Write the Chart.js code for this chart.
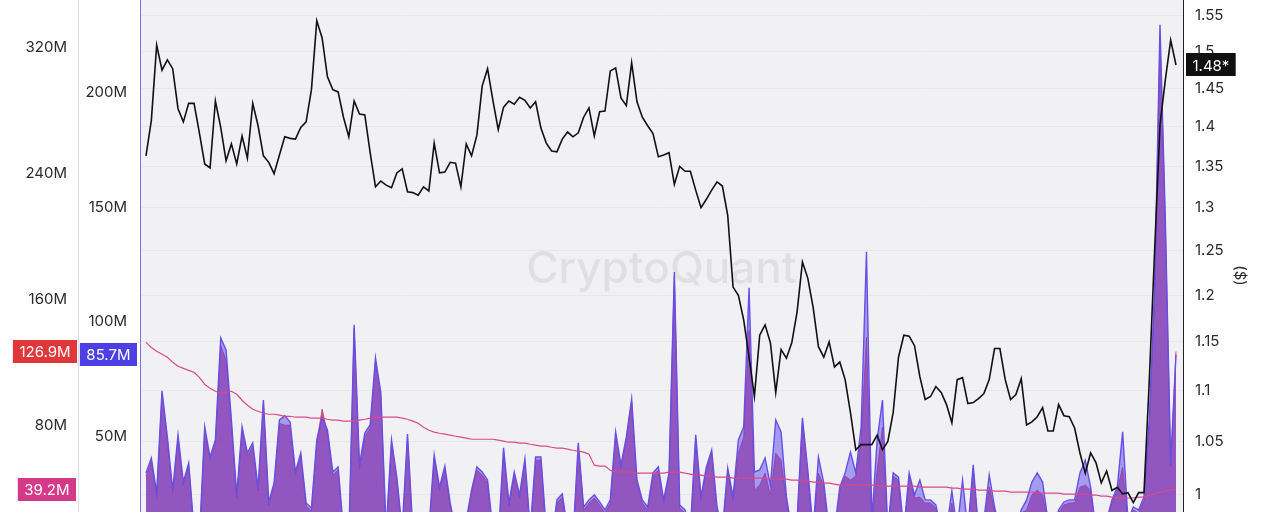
<!DOCTYPE html>
<html>
<head>
<meta charset="utf-8">
<script src="https://cdn.jsdelivr.net/npm/chart.js@4.4.0/dist/chart.umd.min.js"></script>
<style>
  html, body { margin: 0; padding: 0; background: #fff; overflow: hidden; }
  .wrap { position: relative; width: 1280px; height: 551px; }
</style>
</head>
<body>
<div class="wrap"><canvas id="chart"></canvas></div>
<script>
// price ($), right log axis
const price = [
  1.363,1.408,1.508,1.474,1.488,1.476,1.423,1.406,1.430,1.430,
  1.392,1.353,1.348,1.433,1.399,1.357,1.378,1.353,1.388,1.360,
  1.430,1.401,1.363,1.355,1.341,1.364,1.387,1.385,1.384,1.399,
  1.406,1.448,1.542,1.518,1.465,1.448,1.445,1.412,1.387,1.433,
  1.416,1.415,1.367,1.325,1.332,1.327,1.324,1.342,1.347,1.319,
  1.318,1.315,1.325,1.320,1.379,1.342,1.343,1.355,1.354,1.325,
  1.378,1.363,1.389,1.453,1.476,1.434,1.396,1.425,1.433,1.429,
  1.438,1.434,1.424,1.432,1.398,1.379,1.369,1.368,1.384,1.393,
  1.387,1.392,1.412,1.424,1.388,1.419,1.420,1.473,1.477,1.437,
  1.427,1.484,1.432,1.412,1.401,1.391,1.362,1.364,1.367,1.328,
  1.350,1.344,1.344,1.321,1.300,1.310,1.321,1.331,1.326,1.291,
  1.209,1.200,1.173,1.134,1.094,1.157,1.168,1.149,1.098,1.142,
  1.133,1.149,1.182,1.237,1.219,1.187,1.145,1.134,1.150,1.124,
  1.129,1.111,1.078,1.042,1.047,1.047,1.047,1.056,1.042,1.050,
  1.078,1.134,1.157,1.156,1.146,1.114,1.091,1.094,1.104,1.098,
  1.086,1.068,1.111,1.113,1.087,1.088,1.092,1.097,1.111,1.143,
  1.143,1.111,1.091,1.096,1.112,1.066,1.069,1.074,1.083,1.060,
  1.060,1.086,1.075,1.074,1.063,1.039,1.020,1.039,1.030,1.011,
  1.022,1.004,1.007,1.001,1.002,0.993,1.002,1.002,1.111,1.251,
  1.402,1.461,1.515,1.481
];

// red series (M), outer left axis
const volRed = [
  47.6,57.2,34.9,99.7,70.5,36.8,71.8,41.9,54.0,11.4,
  5.1,76.8,57.8,68.6,130.8,121.3,81.3,33.7,76.8,60.3,
  66.7,38.1,94.0,29.2,41.3,81.3,80.0,80.0,48.3,60.3,
  28.6,25.4,68.6,90.2,74.9,48.3,51.4,11.4,5.1,141.6,
  52.7,73.0,78.1,120.7,98.4,11.4,68.6,45.1,11.4,72.4,
  11.4,1.9,5.1,11.4,59.1,38.7,52.1,28.6,11.4,5.1,
  17.8,36.8,51.4,48.3,43.2,11.4,5.1,63.5,28.6,48.3,
  33.7,56.5,11.4,57.8,57.8,11.4,5.1,30.5,34.3,11.4,
  5.1,66.7,26.0,30.5,33.7,29.2,24.1,30.5,73.7,52.7,
  70.5,94.6,43.2,30.5,26.0,47.6,51.4,30.5,47.6,175.3,
  27.3,24.1,11.4,71.8,32.4,51.4,62.2,26.0,11.4,50.8,
  32.4,62.2,72.4,140.3,38.7,41.9,49.5,35.6,62.2,57.8,
  32.4,11.4,17.8,82.6,49.5,11.4,49.5,41.3,11.4,11.4,
  38.7,47.6,45.1,47.6,70.5,135.9,17.8,51.4,78.7,11.4,
  47.6,45.1,11.4,47.6,33.7,34.3,30.5,30.5,27.3,11.4,
  11.4,30.5,11.4,22.9,11.4,52.7,11.4,17.8,40.6,26.0,
  11.4,11.4,11.4,14.6,24.1,26.0,35.6,38.7,35.6,17.8,
  11.4,24.1,29.2,30.5,30.5,40.6,41.9,38.7,11.4,11.4,
  17.8,30.5,38.7,53.3,17.8,26.0,24.1,32.4,81.3,163.8,
  327.7,208.3,54.0,126.9
];

// blue series (M), inner left axis
const volBlue = [
  34.1,40.6,25.3,69.9,49.8,26.6,50.7,30.1,38.4,9.2,
  4.8,54.2,41.0,48.5,93.0,87.8,57.2,24.5,54.2,42.8,
  47.2,27.5,65.9,21.4,29.7,57.2,59.0,56.3,34.5,42.8,
  21.0,18.8,48.5,58.5,52.8,34.5,36.7,9.2,4.8,98.7,
  37.6,51.5,55.0,84.3,69.0,9.2,48.5,32.3,9.2,51.1,
  9.2,2.6,4.8,9.2,41.9,27.9,37.1,21.0,9.2,4.8,
  13.5,26.6,36.7,34.5,31.0,9.2,4.8,45.0,21.0,34.5,
  24.5,40.2,9.2,41.0,41.0,9.2,4.8,22.3,24.9,9.2,
  4.8,47.2,19.2,22.3,24.5,21.4,17.9,22.3,52.0,37.6,
  49.8,66.4,31.0,22.3,19.2,34.1,36.7,22.3,34.1,121.8,
  20.1,17.9,9.2,50.7,23.6,36.7,44.1,19.2,9.2,36.2,
  23.6,48.5,54.2,114.9,34.5,35.4,40.6,28.8,57.2,52.0,
  23.6,9.2,13.5,58.1,35.4,9.2,41.0,29.7,9.2,9.2,
  27.9,34.1,43.2,34.1,54.2,130.6,13.5,48.5,65.9,9.2,
  34.1,32.3,9.2,34.1,24.5,31.0,22.3,22.3,20.1,9.2,
  9.2,26.2,9.2,31.0,9.2,37.6,9.2,13.5,33.2,19.2,
  9.2,9.2,9.2,11.4,17.9,22.3,30.1,34.1,30.1,13.5,
  9.2,17.9,21.4,22.3,22.3,34.1,39.7,27.9,9.2,9.2,
  13.5,22.3,27.9,52.0,13.5,19.2,17.9,23.6,57.2,114.0,
  229.7,144.5,38.4,85.7
];

// moving average (M), outer left axis
const volAvg = [
  132.7,129.5,127.0,125.1,123.2,120.0,117.5,116.2,114.9,113.7,
  110.5,106.0,103.5,101.6,100.3,101.0,101.6,99.7,95.9,92.7,
  90.2,88.9,87.6,87.0,87.0,86.4,85.7,85.7,85.1,85.1,
  85.1,84.5,84.5,84.5,83.8,83.2,83.2,82.6,82.6,82.6,
  83.2,83.8,84.5,85.1,85.1,85.1,85.1,85.1,84.5,83.8,
  82.6,81.3,78.7,76.8,75.6,74.9,74.3,73.7,73.0,72.4,
  71.8,71.1,71.1,71.1,71.1,71.1,70.5,69.9,69.2,69.2,
  68.6,68.6,67.9,67.3,66.7,66.7,66.0,65.4,65.4,64.8,
  64.1,63.5,62.9,61.6,54.6,54.0,54.0,51.4,50.2,50.2,
  50.2,50.2,49.5,49.5,49.5,49.5,49.5,49.5,50.2,50.2,
  50.2,49.5,48.9,48.3,48.3,47.6,47.6,47.0,47.0,47.0,
  46.4,46.4,46.4,46.4,46.4,46.4,46.4,45.7,45.7,45.7,
  45.7,45.1,45.1,44.5,44.5,43.8,43.8,43.2,43.2,42.5,
  41.9,41.9,41.9,41.9,41.9,41.9,41.9,41.9,41.3,41.3,
  41.3,41.3,41.3,41.3,41.3,40.6,40.6,40.6,40.6,40.6,
  40.6,40.0,40.0,39.4,39.4,39.4,38.7,38.7,38.7,38.1,
  38.1,38.1,37.5,37.5,37.5,37.5,37.5,36.8,36.8,36.8,
  36.8,36.8,36.2,36.2,36.2,36.2,36.2,35.6,35.6,34.9,
  34.9,34.3,33.7,33.7,33.7,33.7,34.3,34.3,35.6,36.2,
  37.5,38.1,38.7,39.2
];

const outerTicks = [80, 160, 240, 320];
const innerTicks = [50, 100, 150, 200];
const priceTicks = [1, 1.05, 1.1, 1.15, 1.2, 1.25, 1.3, 1.35, 1.4, 1.45, 1.5, 1.55];

const FONT = 'Inter, "Noto Sans", sans-serif';
Chart.defaults.font.family = FONT;
Chart.defaults.font.size = 15;
Chart.defaults.color = '#2a2a2a';

const pts = arr => arr.map((v, i) => ({ x: i, y: v }));

const plotBg = {
  id: 'plotBg',
  beforeDraw(chart) {
    const { ctx, chartArea: a } = chart;
    ctx.save();
    ctx.fillStyle = '#f1f1f4';
    ctx.fillRect(a.left, a.top, a.width, a.height);
    ctx.restore();
  }
};

const watermark = {
  id: 'watermark',
  beforeDatasetsDraw(chart) {
    const { ctx, chartArea: a } = chart;
    ctx.save();
    ctx.font = '500 44px ' + FONT;
    ctx.fillStyle = 'rgba(0,0,0,0.065)';
    ctx.textAlign = 'center';
    ctx.textBaseline = 'middle';
    ctx.fillText('CryptoQuant', (a.left + a.right) / 2, a.top + a.height * 0.49);
    ctx.restore();
  }
};

function badge(ctx, text, color, x, y, fromRight) {
  ctx.font = '15px ' + FONT;
  const w = ctx.measureText(text).width + 13;
  const h = 23;
  const left = fromRight ? x - w : x;
  ctx.fillStyle = color;
  ctx.fillRect(left, Math.round(y - h / 2), w, h);
  ctx.fillStyle = '#fff';
  ctx.textAlign = 'center';
  ctx.textBaseline = 'middle';
  ctx.fillText(text, left + w / 2, y + 1);
}

// last-value tags on the axes
const lastTags = {
  id: 'lastTags',
  afterDraw(chart) {
    const { ctx, scales } = chart;
    const o = scales.yOuter, n = scales.yInner, p = scales.yPrice;
    const r = volRed[volRed.length - 1];
    const b = volBlue[volBlue.length - 1];
    const m = volAvg[volAvg.length - 1];
    const c = price[price.length - 1];
    ctx.save();
    badge(ctx, r.toFixed(1) + 'M', '#e0383a', o.right - 1, o.getPixelForValue(r), true);
    badge(ctx, b.toFixed(1) + 'M', '#4d3fe3', n.right - 3, n.getPixelForValue(b), true);
    badge(ctx, m.toFixed(1) + 'M', '#d6388a', o.right - 2, o.getPixelForValue(m), true);
    badge(ctx, c.toFixed(2) + '*', '#111', p.left + 3, p.getPixelForValue(c), false);
    ctx.restore();
  }
};

const setTicks = list => scale => { scale.ticks = list.map(v => ({ value: v })); };
const fitAxis = w => scale => { scale.width = w; scale.paddingTop = 0; scale.paddingBottom = 0; };

new Chart(document.getElementById('chart'), {
  type: 'line',
  data: {
    datasets: [
      { label: 'Price', data: pts(price), yAxisID: 'yPrice', borderColor: '#111', borderWidth: 1.6,
        pointRadius: 0, tension: 0, fill: false, order: 0 },
      { label: 'MA', data: pts(volAvg), yAxisID: 'yOuter', borderColor: '#d9498a', borderWidth: 1.2,
        pointRadius: 0, fill: false, order: 1 },
      { label: 'Blue', data: pts(volBlue), yAxisID: 'yInner', borderColor: 'rgb(100,80,228)', borderWidth: 1.4,
        backgroundColor: 'rgba(90,70,235,0.5)', fill: 'origin', pointRadius: 0, order: 2 },
      { label: 'Red', data: pts(volRed), yAxisID: 'yOuter', borderColor: 'rgba(200,55,95,0.85)', borderWidth: 1,
        backgroundColor: 'rgba(175,10,80,0.6)', fill: 'origin', pointRadius: 0, order: 3 }
    ]
  },
  options: {
    responsive: true,
    maintainAspectRatio: false,
    animation: false,
    layout: { padding: 0 },
    plugins: { legend: { display: false }, tooltip: { enabled: false } },
    scales: {
      x: { type: 'linear', display: false, min: -1.125, max: 194.31 },
      yOuter: {
        position: 'left', weight: 2, min: 0, max: 350.5,
        grid: { display: false, drawTicks: false },
        border: { display: true, color: '#dedee3', width: 1 },
        ticks: { padding: 11, callback: v => v + 'M' },
        afterBuildTicks: setTicks(outerTicks),
        afterFit: fitAxis(78)
      },
      yInner: {
        position: 'left', weight: 1, min: 0, max: 240.5,
        grid: { display: false, drawTicks: false },
        border: { display: true, color: '#7f70ee', width: 1 },
        ticks: { padding: 13, callback: v => v + 'M' },
        afterBuildTicks: setTicks(innerTicks),
        afterFit: fitAxis(62)
      },
      yPrice: {
        type: 'logarithmic', position: 'right', min: 0.95, max: 1.5716,
        grid: { color: '#e7e7ec', drawTicks: false },
        border: { display: true, color: '#222', width: 1 },
        ticks: { padding: 12, callback: v => String(v) },
        title: { display: true, text: '($)', padding: { top: 31, bottom: 0 }, font: { size: 15 } },
        afterBuildTicks: setTicks(priceTicks),
        afterFit: fitAxis(97)
      }
    }
  },
  plugins: [plotBg, watermark, lastTags]
});
</script>
</body>
</html>
